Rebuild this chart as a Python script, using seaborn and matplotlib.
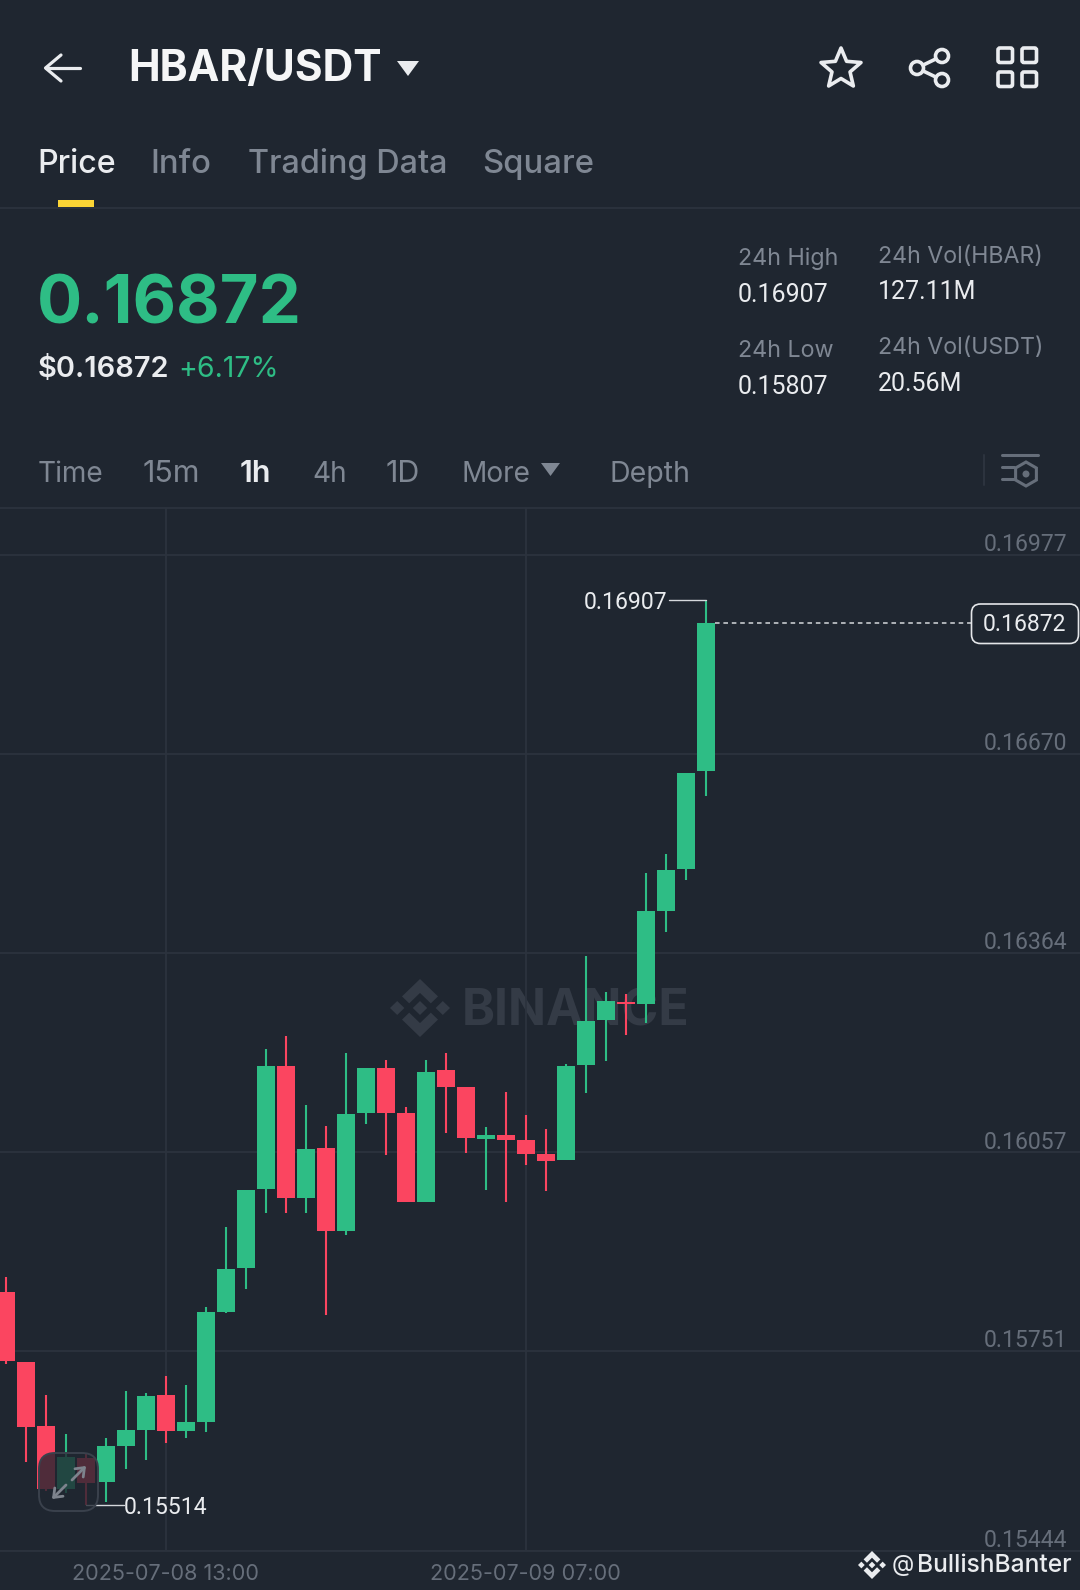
import numpy as np
import pandas as pd
import seaborn as sns
import matplotlib
matplotlib.use("Agg")
import matplotlib.pyplot as plt
from matplotlib.patches import FancyBboxPatch, Polygon, Circle
from matplotlib.transforms import ScaledTranslation

# ---------- data ----------
opens = [0.158426,0.157349,0.156352,0.155385,0.155866,0.155489,0.156051,0.156294,0.156839,0.156283,
         0.156416,0.158119,0.158791,0.160002,0.161902,0.159875,0.160633,0.159359,0.161170,0.161873,
         0.161170,0.159806,0.161835,0.161572,0.160774,0.160843,0.160761,0.160541,0.160460,0.161917,
         0.162608,0.162885,0.162860,0.164279,0.164933,0.166434]
closes = [0.157366,0.156341,0.155385,0.155877,0.155483,0.156045,0.156294,0.156827,0.156283,0.156416,
          0.158108,0.158780,0.159990,0.161902,0.159869,0.160622,0.159359,0.161155,0.161873,0.161170,
          0.159806,0.161804,0.161584,0.160786,0.160843,0.160761,0.160548,0.160441,0.161898,0.162596,
          0.162897,0.162847,0.164286,0.164920,0.166416,0.168720]
highs = [0.158646,0.157349,0.156839,0.156242,0.155935,0.156167,0.156891,0.156862,0.157123,0.156989,
         0.158189,0.159428,0.159990,0.162163,0.162354,0.161300,0.160969,0.162093,0.161873,0.161993,
         0.161276,0.161986,0.162093,0.161572,0.160962,0.161496,0.161138,0.160931,0.161923,0.163588,
         0.163035,0.163010,0.164876,0.165165,0.166416,0.169070]
lows = [0.157320,0.155808,0.155356,0.155327,0.155140,0.155182,0.155703,0.155831,0.156103,0.156167,
        0.156271,0.158096,0.158467,0.159631,0.159631,0.159631,0.158061,0.159301,0.161006,0.160522,
        0.159806,0.159806,0.160868,0.160554,0.159988,0.159806,0.160378,0.159976,0.160460,0.161477,
        0.161980,0.162382,0.162564,0.163965,0.164763,0.166057]
y_ticks = [0.16977, 0.16670, 0.16364, 0.16057, 0.15751, 0.15444]
x_tick_pos = [8, 26]
x_tick_labels = ["2025-07-08 13:00", "2025-07-09 07:00"]
last_price = 0.16872
high_label = 0.16907
low_label = 0.15514

BG = "#1f2630"; GRID = "#2c333e"; GREEN = "#2ebd85"; RED = "#fb4560"
GREY = "#7f8793"; DIM = "#666e7a"; WHITE = "#eaecef"
FONT = "Inter"; NUM = "Roboto"

sns.set_theme(style="darkgrid", rc={
    "figure.facecolor": BG, "axes.facecolor": BG, "grid.color": GRID, "grid.linewidth": 1.3,
    "savefig.facecolor": BG})
plt.rcParams["font.family"] = [FONT, "DejaVu Sans"]

W, H = 1080, 1590
fig = plt.figure(figsize=(W/100, H/100), dpi=100)

def pt(px):
    return px * 0.72

# ---------- UI layer below the chart ----------
ui = fig.add_axes([0, 0, 1, 1], zorder=0)
ui.set_xlim(0, W); ui.set_ylim(H, 0); ui.axis("off")

def label(x, y, s, size, color=GREY, weight="normal", **kw):
    ui.text(x, y, s, fontsize=pt(size), color=color, fontweight=weight, va="baseline", ha="left", **kw)

def binance_logo(ax, cx, cy, rx, ry, color, z=1):
    top = [(0,1),(0.6,0.4),(0.36,0.16),(0,0.52),(-0.36,0.16),(-0.6,0.4)]
    diamond = [(0,0.24),(0.24,0),(0,-0.24),(-0.24,0)]
    shapes = [top, [(a,-b) for a,b in top], diamond,
              [(a-0.76,b) for a,b in diamond], [(a+0.76,b) for a,b in diamond]]
    for s in shapes:
        ax.add_patch(Polygon([(cx+a*rx, cy-b*ry) for a,b in s], closed=True, fc=color, ec="none", zorder=z))

# header
ui.plot([46,80],[68,68], color=WHITE, lw=2.3, solid_capstyle="round")
ui.plot([61,45.5,61],[55,68,81], color=WHITE, lw=2.3, solid_capstyle="round", solid_joinstyle="round")
label(128, 81, "HBAR/USDT", 42.5, "#f5f6f7", "bold")
ui.add_patch(Polygon([(397,61),(419,61),(408,76)], closed=True, fc=WHITE, ec="none"))
ang = np.deg2rad(np.arange(0, 360, 36) + 90)
rad = np.array([21, 9.5] * 5)
ui.add_patch(Polygon(np.c_[841 + rad*np.cos(ang), 69 - rad*np.sin(ang)], closed=True, fc="none", ec=WHITE, lw=2.6, joinstyle="round"))
for a, b in [((917,68),(942,56)), ((917,68),(942,80))]:
    ui.plot([a[0],b[0]], [a[1],b[1]], color=WHITE, lw=2.6)
for c in [(917,68),(942,56),(942,80)]:
    ui.add_patch(Circle(c, 6.5, fc=BG, ec=WHITE, lw=2.6, zorder=3))
for x0, y0 in [(997,47),(1021,47),(997,71),(1021,71)]:
    ui.add_patch(FancyBboxPatch((x0+1,y0+1), 14.5, 14.5, boxstyle="round,pad=0,rounding_size=2", fc="none", ec=WHITE, lw=2.6))

# tabs
label(37, 173, "Price", 32.2, WHITE, "medium")
label(150, 173, "Info", 32.8, GREY, "medium")
label(248, 173, "Trading Data", 32.4, GREY, "medium")
label(482, 173, "Square", 32.8, GREY, "medium")
ui.add_patch(plt.Rectangle((58,200), 36, 7, fc="#fcd535", ec="none"))
ui.plot([0,W],[208,208], color=GRID, lw=1.3)

# price block
label(37, 323, "0.16872", 67, GREEN, "bold")
label(38, 377, "$0.16872", 29, WHITE, "semibold")
label(178.5, 377, "+6.17%", 28.5, GREEN)
label(738, 265, "24h High", 23.3, GREY)
label(738, 302, "0.16907", 25, WHITE, family=NUM)
label(738, 357, "24h Low", 23.3, GREY)
label(738, 394, "0.15807", 25, WHITE, family=NUM)
label(878, 263, "24h Vol(HBAR)", 23.2, GREY)
label(878, 299, "127.11M", 25, WHITE, family=NUM)
label(878, 354, "24h Vol(USDT)", 23.2, GREY)
label(878, 391, "20.56M", 25, WHITE, family=NUM)

# interval row
for x, s, z in [(38,"Time",28),(143,"15m",30.5),(312,"4h",28),(386,"1D",30.5),(462,"More",28),(609,"Depth",28.5)]:
    label(x, 481.5, s, z, GREY)
label(240, 481.5, "1h", 30.5, WHITE, "semibold")
ui.add_patch(Polygon([(541,463),(560,463),(550.5,476)], closed=True, fc=GREY, ec="none"))
ui.plot([984,984],[455,485], color=GRID, lw=1.5)
for x0, x1, y in [(1002,1038,455),(1002,1014,467),(1002,1014,479)]:
    ui.plot([x0,x1],[y,y], color=DIM, lw=2.2)
a6 = np.deg2rad(np.arange(0,360,60)+90)
ui.add_patch(Polygon(np.c_[1026+12*np.cos(a6), 474-12*np.sin(a6)], closed=True, fc=BG, ec=DIM, lw=2.2, zorder=3))
ui.add_patch(Circle((1026,474), 3.5, fc=DIM, ec="none", zorder=4))
ui.plot([0,W],[508,508], color=GRID, lw=1.3)

# chart watermark (under the candles)
binance_logo(ui, 420, 1008, 30, 29, "#343b46")
label(462, 1026, "BINANCE", 50, "#343b46", "bold")

# ---------- chart ----------
ax = fig.add_axes([0, 1-1550.6/H, 1, (1550.6-508)/H], zorder=1)
ax.patch.set_visible(False)
df = pd.DataFrame({"k": np.arange(len(opens)), "open": opens, "close": closes, "high": highs, "low": lows})
df["up"] = df.close >= df.open
df["bottom"] = df[["open","close"]].min(axis=1)
df["height"] = (df.close - df.open).abs()
df["color"] = np.where(df.up, GREEN, RED)

ax.vlines(df.k, df.low, df.high, colors=df.color, lw=1.5, zorder=3)
for up, col in [(True, GREEN), (False, RED)]:
    sub = df[df.up == up]
    sns.barplot(x=sub.k.values, y=sub.height.values, bottom=sub.bottom.values, color=col, saturation=1,
                width=0.885, native_scale=True, errorbar=None, linewidth=0, ax=ax, zorder=4)

ax.set_xlim(-0.2835, 53.7165)
ax.set_ylim(0.15444, 0.170489)
ax.set_xticks(x_tick_pos); ax.set_xticklabels(x_tick_labels)
ax.set_yticks(y_ticks); ax.set_yticklabels([f"{v:.5f}" for v in y_ticks])
ax.set_xlabel(""); ax.set_ylabel("")
ax.grid(True, color=GRID, lw=1.3); ax.set_axisbelow(True)
for s in ["top","left","right"]:
    ax.spines[s].set_visible(False)
ax.spines["bottom"].set_color(GRID); ax.spines["bottom"].set_linewidth(1.3)
ax.tick_params(axis="x", length=0, pad=9.5, labelsize=pt(21.6), labelcolor=DIM)
ax.tick_params(axis="y", length=0, left=False, right=False, labelleft=False, labelright=True, pad=-9.4,
               labelsize=pt(23), labelcolor=DIM)
for t in ax.get_yticklabels():
    t.set_ha("right"); t.set_va("bottom"); t.set_fontfamily(NUM)
    t.set_transform(t.get_transform() + ScaledTranslation(0, -1.2/100, fig.dpi_scale_trans))

# annotations on the chart, in data coordinates
last_k = df.k.iloc[-1]
ax.plot([last_k+0.45, 48.3], [last_price, last_price], color="#d5d8dc", lw=1.1, ls=(0,(3,2.5)), zorder=5)
ax.plot([last_k-1.85, last_k], [high_label, high_label], color="#d5d8dc", lw=1, zorder=5)
ax.annotate(f"{high_label:.5f}", (last_k-1.9, high_label), xytext=(0,-1.5), textcoords="offset points",
            color=WHITE, fontsize=pt(23), family=NUM, ha="right", va="center", zorder=6)
low_k = df.k[df.low.idxmin()]
ax.plot([low_k, low_k+1.9], [low_label, low_label], color="#d5d8dc", lw=1, zorder=5)
ax.annotate(f"{low_label:.5f}", (low_k+1.9, low_label), xytext=(0,-1.5), textcoords="offset points",
            color=WHITE, fontsize=pt(23), family=NUM, ha="left", va="center", zorder=6)

# ---------- top layer ----------
top = fig.add_axes([0, 0, 1, 1], zorder=2)
top.set_xlim(0, W); top.set_ylim(H, 0); top.axis("off")
top.add_patch(FancyBboxPatch((39,1453), 59, 58, boxstyle="round,pad=0,rounding_size=16", fc=BG, alpha=0.78, ec="none"))
top.add_patch(FancyBboxPatch((39,1453), 59, 58, boxstyle="round,pad=0,rounding_size=16", fc="none", ec="#3a414c", lw=1.4))
for a, b in [((66,1485),(52,1499)), ((72,1480),(86,1466))]:
    top.annotate("", xy=b, xytext=a, arrowprops=dict(arrowstyle="->,head_width=0.35,head_length=0.45", color="#7d838d", lw=2, shrinkA=0, shrinkB=0))
top.add_patch(FancyBboxPatch((971.5,604), 107, 39.5, boxstyle="round,pad=0,rounding_size=9", fc=BG, ec="#e4e6e9", lw=1.2))
top.text(1025, 624.5, f"{last_price:.5f}", color=WHITE, fontsize=pt(23), family=NUM, ha="center", va="center")
binance_logo(top, 872, 1565, 14, 14, "#eaecef")
top.text(892, 1565, "@", color=WHITE, fontsize=pt(23), ha="left", va="center")
top.text(1072, 1565, "BullishBanter", color=WHITE, fontsize=pt(24.6), ha="right", va="center", fontweight="medium")

fig.savefig("out.png", dpi=100)
